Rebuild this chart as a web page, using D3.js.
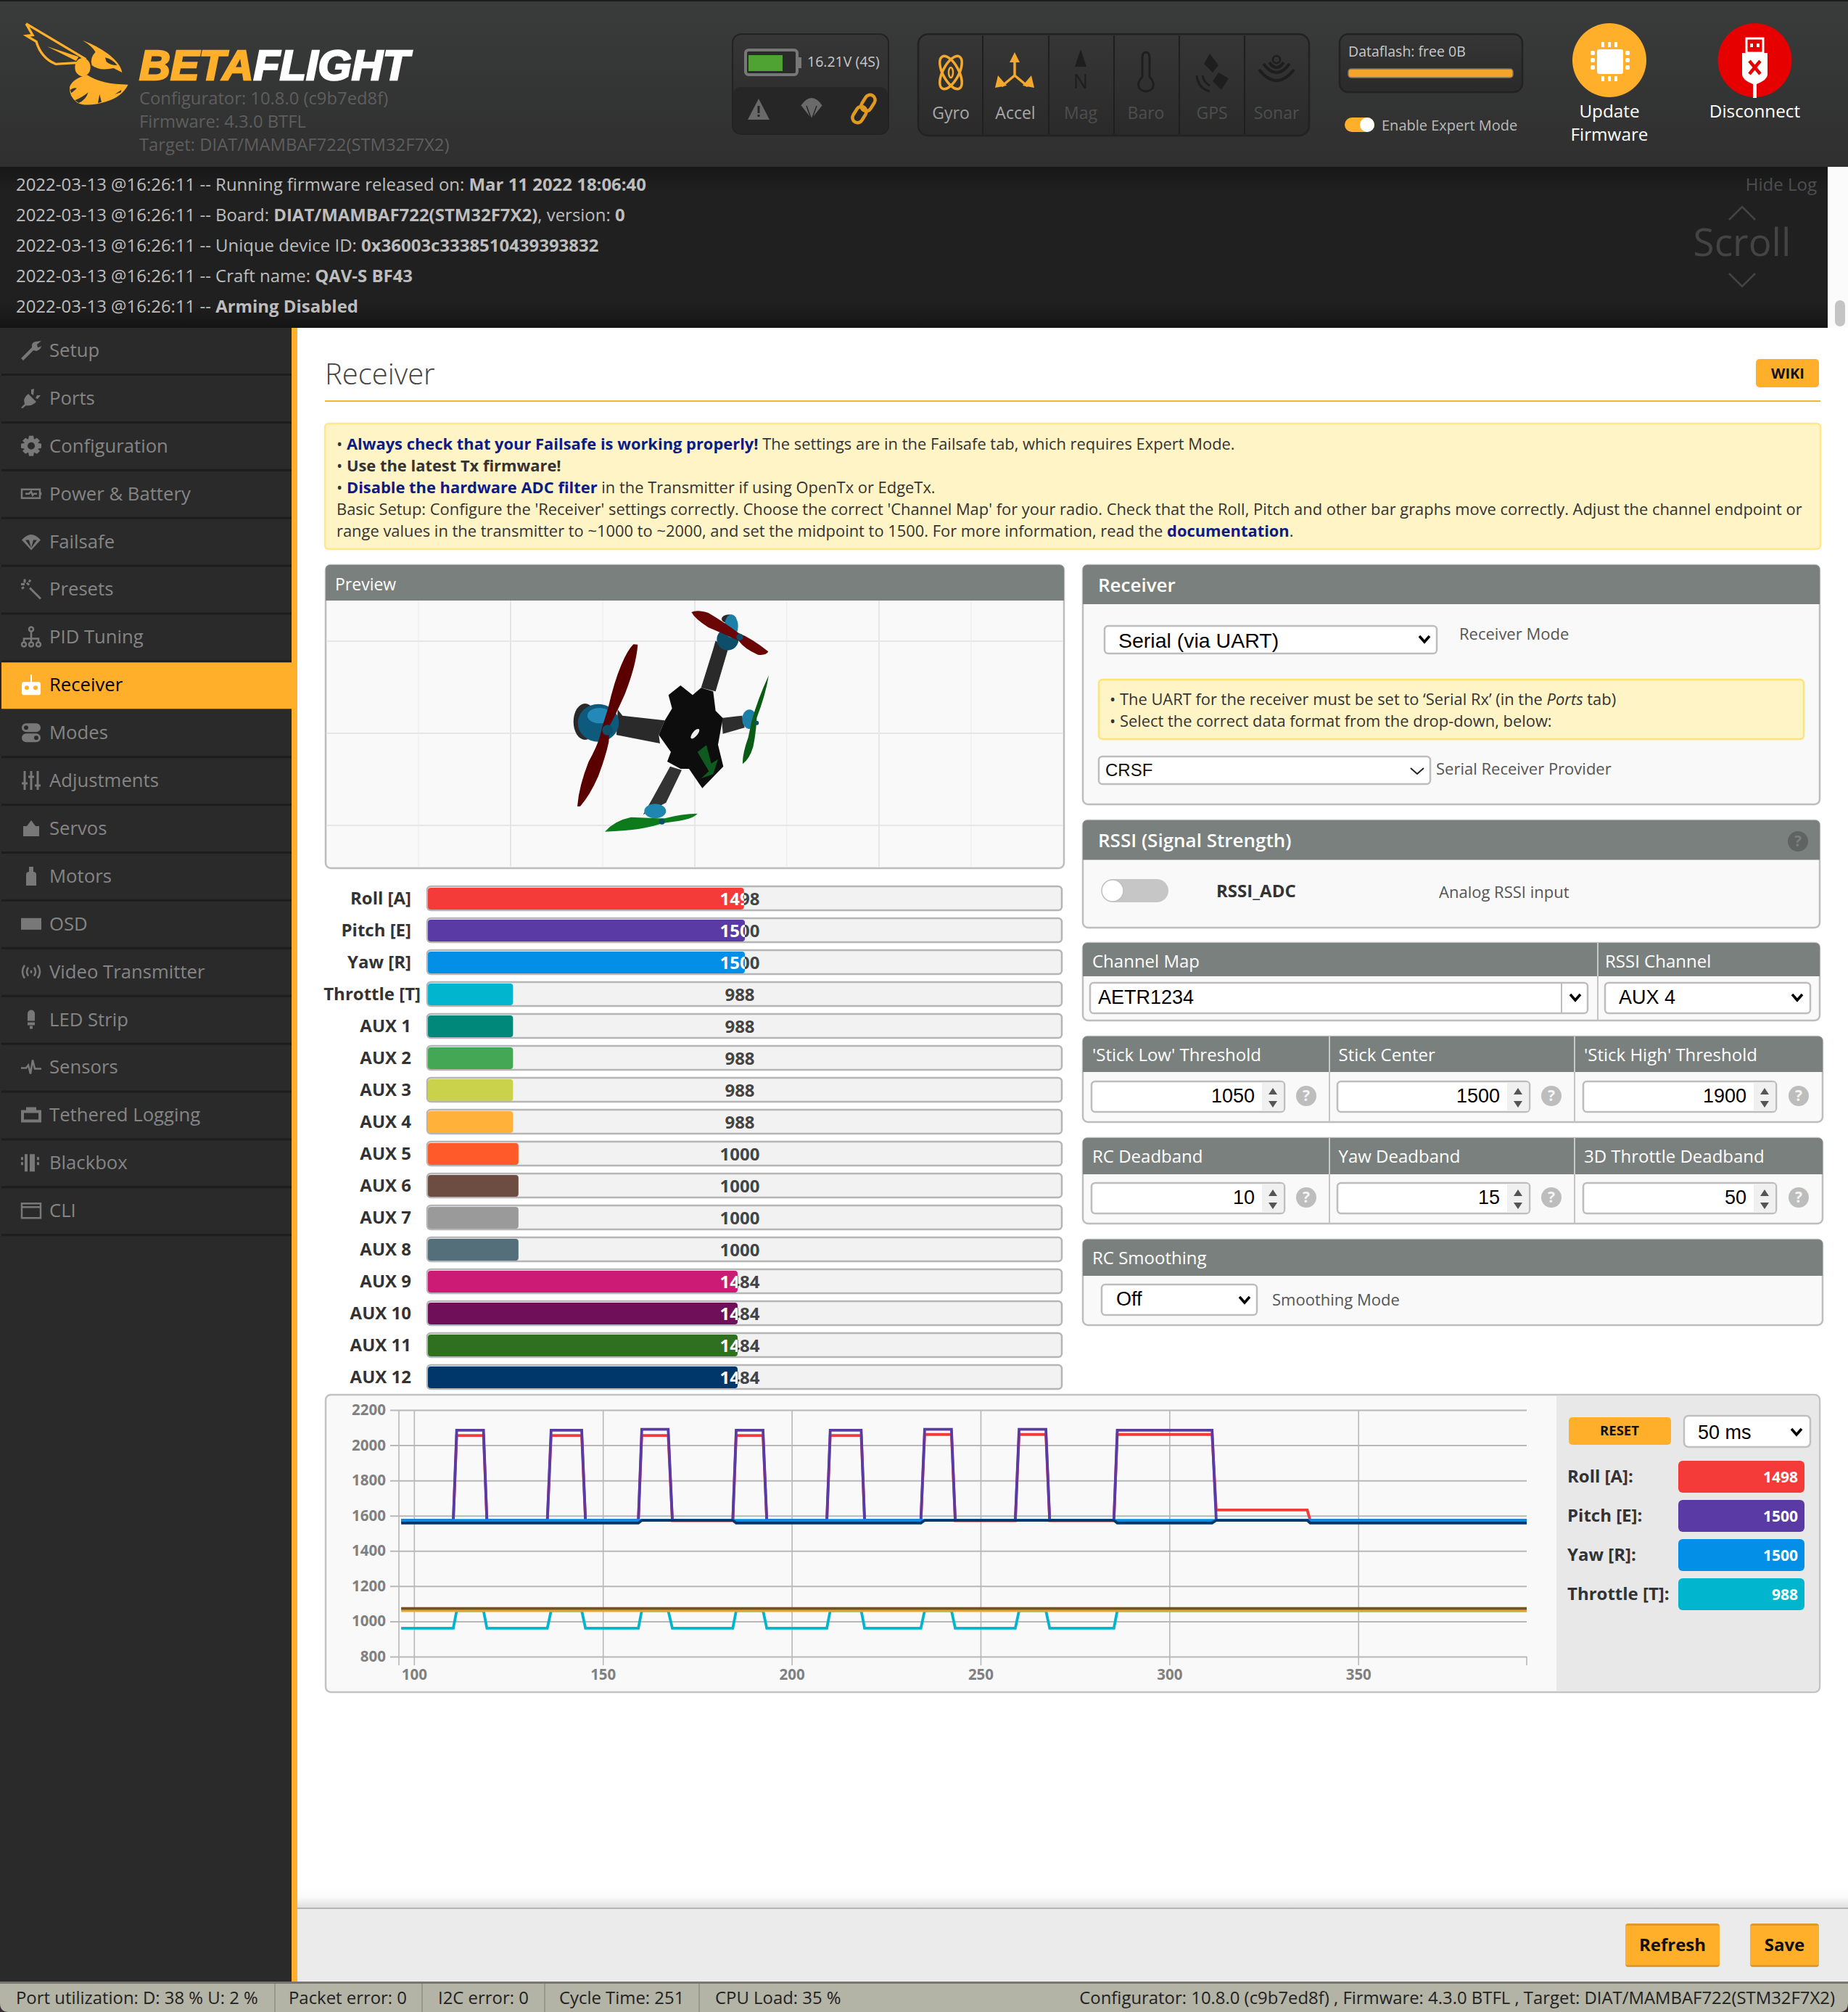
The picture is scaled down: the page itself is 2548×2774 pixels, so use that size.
<!DOCTYPE html>
<html>
<head>
<meta charset="utf-8">
<script src="https://cdn.jsdelivr.net/npm/d3@7"></script>
<style>
  html, body { margin: 0; padding: 0; background: #fff; }
  svg { display: block; }
  text { font-family: "Open Sans", sans-serif; }
</style>
</head>
<body>
<div id="chart"></div>
<script>
// ---- datos ----
const channelNames = ["Roll [A]", "Pitch [E]", "Yaw [R]", "Throttle [T]", "AUX 1", "AUX 2", "AUX 3", "AUX 4",
  "AUX 5", "AUX 6", "AUX 7", "AUX 8", "AUX 9", "AUX 10", "AUX 11", "AUX 12"]
const channelValues = [1498, 1500, 1500, 988, 988, 988, 988, 988, 1000, 1000, 1000, 1000, 1484, 1484, 1484, 1484]
const channelColors = ["#f53a3a", "#5a3aa5", "#038fe8", "#00b5cd", "#00897b", "#43a755", "#c9d24a", "#ffb13a",
  "#ff5a2a", "#6d4c41", "#9a9a9a", "#546e7a", "#cb1b74", "#6f0f5a", "#2f7020", "#00376b"]

const yTicks = [800, 1000, 1200, 1400, 1600, 1800, 2000, 2200]
const xTicks = [100, 150, 200, 250, 300, 350]

const sampleX = [96.6,
  110.4, 111.3, 118.4, 119.3,
  135.3, 136.3, 144.4, 145.4,
  159.4, 160.3, 167.3, 168.4,
  184.4, 185.3, 192.4, 193.4,
  209.3, 210.2, 218.4, 219.3,
  234.2, 235.2, 242.3, 243.3,
  259.2, 260.2, 267.3, 268.3,
  285.3, 286.2, 311.3, 312.4,
  336.5, 337.3, 394.6]
const flatX = [96.6, 394.6]

const rollTrace = [1572,
  1572, 2055, 2055, 1572,
  1572, 2055, 2055, 1572,
  1572, 2055, 2055, 1572,
  1572, 2055, 2055, 1572,
  1572, 2055, 2055, 1572,
  1572, 2061, 2061, 1572,
  1572, 2061, 2061, 1572,
  1572, 2061, 2061, 1632,
  1632, 1572, 1572]
const pitchTrace = [1574,
  1574, 2085, 2085, 1574,
  1574, 2085, 2085, 1574,
  1574, 2090, 2090, 1574,
  1574, 2085, 2085, 1574,
  1574, 2085, 2085, 1574,
  1574, 2090, 2090, 1574,
  1574, 2090, 2090, 1574,
  1574, 2085, 2085, 1574,
  1574, 1574, 1574]
const throttleTrace = [961,
  961, 1061, 1061, 961,
  961, 1061, 1061, 961,
  961, 1061, 1061, 961,
  961, 1061, 1061, 961,
  961, 1061, 1061, 961,
  961, 1061, 1061, 961,
  961, 1061, 1061, 961,
  961, 1061, 1061, 1061,
  1061, 1061, 1061]
const aux12Trace = [1558,
  1558, 1558, 1558, 1558,
  1558, 1558, 1558, 1558,
  1558, 1574, 1574, 1574,
  1574, 1558, 1558, 1558,
  1558, 1558, 1558, 1558,
  1558, 1574, 1574, 1574,
  1574, 1574, 1574, 1574,
  1574, 1558, 1558, 1574,
  1574, 1558, 1558]
const yawTrace = [1574, 1574]
const aux4Trace = [1061, 1061]
const aux6Trace = [1073, 1073]

const legendNames = ["Roll [A]:", "Pitch [E]:", "Yaw [R]:", "Throttle [T]:"]

const tabNames = ["Setup", "Ports", "Configuration", "Power & Battery", "Failsafe", "Presets", "PID Tuning", "Receiver",
  "Modes", "Adjustments", "Servos", "Motors", "OSD", "Video Transmitter", "LED Strip", "Sensors", "Tethered Logging", "Blackbox", "CLI"]

const ORANGE = "#ffaf2a"
const HEADER = "#7a807d"
const SYS = '"Liberation Sans", Arial, sans-serif'

const svg = d3.select("#chart").append("svg").attr("width", 2548).attr("height", 2774)
const defs = svg.append("defs")

function gradient(id, stops) {
  const g = defs.append("linearGradient").attr("id", id).attr("x1", 0).attr("x2", 0).attr("y1", 0).attr("y2", 1)
  stops.forEach(s => g.append("stop").attr("offset", s[0]).attr("stop-color", s[1]))
}
gradient("headGrad", [[0, "#3a3b3b"], [1, "#2f2f2f"]])
gradient("logGrad", [[0, "#171717"], [0.15, "#202020"], [0.85, "#202020"], [1, "#141414"]])
gradient("panelGrad", [[0, "#363636"], [1, "#2a2a2a"]])
gradient("footGrad", [[0, "#ffffff"], [0.5, "#fafafa"], [1, "#dedede"]])

// ---- ayudas ----
function box(g, x0, y0, x1, y1, fill, stroke, sw, rx) {
  return g.append("rect").attr("x", x0).attr("y", y0).attr("width", x1 - x0).attr("height", y1 - y0)
    .attr("fill", fill).attr("stroke", stroke || "none").attr("stroke-width", sw || 0).attr("rx", rx || 0)
}
function label(g, str, x, y, size, color, opts) {
  opts = opts || {}
  return g.append("text").attr("x", x).attr("y", y).attr("dy", "0.35em").text(str)
    .attr("font-size", size).attr("fill", color)
    .attr("font-weight", opts.bold ? 700 : (opts.weight || 400))
    .attr("text-anchor", opts.anchor || "start")
    .style("font-family", opts.font || null)
}
function rich(g, parts, x, y, size, color) {
  const t = g.append("text").attr("x", x).attr("y", y).attr("dy", "0.35em").attr("font-size", size).attr("fill", color)
  parts.forEach(p => {
    const s = t.append("tspan").text(p.t)
    if (p.b) s.attr("font-weight", 700)
    if (p.c) s.attr("fill", p.c)
    if (p.i) s.attr("font-style", "italic")
  })
  return t
}
function line(g, d, color, sw, fill) {
  return g.append("path").attr("d", d).attr("fill", fill || "none").attr("stroke", color).attr("stroke-width", sw)
}
function chevron(g, x, y, color, sw, w) {
  w = w || 7
  line(g, `M${x - w} ${y - 4} L${x} ${y + 4} L${x + w} ${y - 4}`, color, sw || 3.5)
}
function panel(g, x0, y0, x1, y1, headBottom, dividers) {
  box(g, x0, y0, x1, y1, "#f9f9f9", "#bdbdbd", 2.5, 7)
  g.append("path").attr("fill", HEADER)
    .attr("d", `M${x0} ${headBottom} V${y0 + 6} Q${x0} ${y0} ${x0 + 6} ${y0} H${x1 - 6} Q${x1} ${y0} ${x1} ${y0 + 6} V${headBottom}Z`)
  ;(dividers || []).forEach(dx => {
    g.append("line").attr("x1", dx).attr("x2", dx).attr("y1", y0).attr("y2", headBottom).attr("stroke", "#c8c8c8").attr("stroke-width", 2)
    g.append("line").attr("x1", dx).attr("x2", dx).attr("y1", headBottom).attr("y2", y1).attr("stroke", "#c4c4c4").attr("stroke-width", 2)
  })
}
function help(g, x, y, fill, color) {
  g.append("circle").attr("cx", x).attr("cy", y).attr("r", 14).attr("fill", fill)
  label(g, "?", x, y, 21, color, { anchor: "middle", bold: true })
}

// ---- cabecera ----
const head = svg.append("g").attr("id", "cabecera")
box(head, 0, 0, 2548, 230, "url(#headGrad)")
box(head, 0, 0, 2548, 2, "#1c1c1c")

const logo = head.append("g").attr("id", "logo").attr("transform", "translate(20, 20) scale(0.3333)")
line(logo, "M48 38 L295 185 M48 38 L75 85 L50 88 L90 112 Q110 180 170 205 L255 200", ORANGE, 10)
logo.append("path").attr("fill", ORANGE).attr("d", "M135 132 L265 175 L255 192Z")
logo.append("ellipse").attr("cx", 282).attr("cy", 218).attr("rx", 32).attr("ry", 38).attr("fill", ORANGE)
logo.append("path").attr("fill", ORANGE).attr("d", "M282 107 Q345 130 390 165 Q440 205 445 240 L410 222 Q350 235 320 210 Q310 180 335 155 Q320 130 282 107Z")
logo.append("path").attr("fill", "#333").attr("d", "M375 178 Q405 185 425 210 Q395 210 380 195Z")
logo.append("path").attr("fill", ORANGE).attr("d", "M300 250 Q360 290 470 290 Q445 340 380 360 Q300 385 260 365 Q225 340 228 300 Q240 265 300 250Z")
logo.append("path").attr("fill", "#333").attr("d", "M230 312 Q245 300 258 305 L235 325Z M250 355 Q285 340 305 322 Q295 355 265 366Z M345 366 L352 330 L360 362Z M415 330 L442 312 L440 322Z")

const word = head.append("text").attr("x", 192).attr("y", 110).attr("font-size", 57)
  .attr("font-weight", 700).attr("font-style", "italic").style("font-family", SYS)
  .attr("textLength", 372).attr("lengthAdjust", "spacingAndGlyphs")
word.append("tspan").text("BETA").attr("fill", ORANGE).attr("stroke", ORANGE).attr("stroke-width", 2.5)
word.append("tspan").text("FLIGHT").attr("fill", "#fff").attr("stroke", "#fff").attr("stroke-width", 2.5)

label(head, "Configurator: 10.8.0 (c9b7ed8f)", 192, 136, 23.8, "#5e5e5e")
label(head, "Firmware: 4.3.0 BTFL", 192, 168, 23.8, "#5e5e5e")
label(head, "Target: DIAT/MAMBAF722(STM32F7X2)", 192, 200, 23.8, "#5e5e5e")

// bateria
box(head, 1010, 47, 1225, 185, "url(#panelGrad)", "#222", 2, 12)
box(head, 1011, 120, 1224, 184, "#262626", null, 0, 10)
box(head, 1028, 69, 1099, 103, "#2a2a2a", "#777", 4, 4)
box(head, 1100, 79, 1105, 94, "#777")
box(head, 1032, 76, 1079, 98, "#4fa333")
label(head, "16.21V (4S)", 1113, 85, 19.5, "#c8c8c8")
head.append("path").attr("fill", "#6a6a6a").attr("d", "M1046 136 L1061 165 H1031Z")
box(head, 1044.5, 146, 1047.5, 156, "#262626")
box(head, 1044.5, 158, 1047.5, 161, "#262626")
head.append("path").attr("fill", "#6a6a6a").attr("d", "M1104 146 Q1119 124 1134 146 L1119 165Z")
line(head, "M1104 146 L1119 165 L1134 146 M1112 146 L1119 165 L1126 146", "#262626", 1.5)
;[[1197, 142], [1185, 158]].forEach(c => {
  box(head, c[0] - 7, c[1] - 12, c[0] + 7, c[1] + 12, "none", "#e09a20", 4.5, 7)
    .attr("transform", `rotate(32 ${c[0]} ${c[1]})`)
})

// sensores
box(head, 1266, 47, 1805, 187, "url(#panelGrad)", "#222", 2.5, 14)
const sensorNames = ["Gyro", "Accel", "Mag", "Baro", "GPS", "Sonar"]
const sensorOn = [true, true, false, false, false, false]
const sensorX = [1311, 1400, 1490, 1580, 1671, 1760]
;[1355, 1446, 1536, 1626, 1716].forEach(dx => head.append("line").attr("x1", dx).attr("x2", dx).attr("y1", 49).attr("y2", 185).attr("stroke", "#1f1f1f").attr("stroke-width", 2))
sensorNames.forEach((n, i) => label(head, n, sensorX[i], 156, 23, sensorOn[i] ? "#a8a8a8" : "#4e4e4e", { anchor: "middle" }))
;[-28, 28].forEach(a => head.append("ellipse").attr("cx", 1311).attr("cy", 100).attr("rx", 11).attr("ry", 25)
  .attr("fill", "none").attr("stroke", "#f4a82c").attr("stroke-width", 3.5).attr("transform", `rotate(${a} 1311 100)`))
head.append("ellipse").attr("cx", 1311).attr("cy", 100).attr("rx", 3).attr("ry", 7).attr("fill", "none").attr("stroke", "#f4a82c").attr("stroke-width", 2.5)
line(head, "M1399 82 V104 L1381 119 M1399 104 L1417 119", "#f4a82c", 3.5)
head.append("path").attr("fill", "#f4a82c").attr("d", "M1399 72 L1406 86 H1392Z M1372 121 L1376 104 L1388 118Z M1426 121 L1422 104 L1410 118Z")
const off = "#1e1e1e"
head.append("path").attr("fill", off).attr("d", "M1490 68 L1498 92 H1482Z")
label(head, "N", 1490, 113, 27, off, { anchor: "middle" })
line(head, "M1575 80 Q1575 72 1580 72 Q1585 72 1585 80 V106 Q1593 114 1589 122 Q1580 130 1571 122 Q1567 114 1575 106Z", "#1e1e1e", 3)
head.append("path").attr("fill", off).attr("d", "M1660 88 L1668 74 L1680 90 L1672 100Z M1680 100 L1694 108 L1684 124 L1672 112Z")
line(head, "M1650 104 Q1652 122 1668 126 M1658 104 Q1660 114 1668 118", off, 3)
line(head, "M1736 96 Q1760 126 1784 96 M1742 88 Q1760 112 1778 88 M1750 86 Q1760 100 1770 86", off, 4)
head.append("circle").attr("cx", 1760).attr("cy", 82).attr("r", 5).attr("fill", "none").attr("stroke", off).attr("stroke-width", 2.5)

// dataflash
box(head, 1847, 47, 2099, 127, "url(#panelGrad)", "#222", 2.5, 12)
label(head, "Dataflash: free 0B", 1859, 71, 19.5, "#c8c8c8")
box(head, 1859, 95, 2086, 107, "#f2a52a", "#777", 1.5, 4)

box(head, 1854, 162, 1895, 182, ORANGE, null, 0, 10)
head.append("circle").attr("cx", 1885).attr("cy", 172).attr("r", 10).attr("fill", "#fff")
label(head, "Enable Expert Mode", 1905, 173, 20, "#bbbbbb")

// botones
head.append("circle").attr("cx", 2219).attr("cy", 83).attr("r", 51).attr("fill", ORANGE)
box(head, 2202, 68, 2238, 102, "#fff", null, 0, 3)
;[2210, 2219, 2228].forEach(px => {
  box(head, px - 2, 58, px + 2, 65, "#fff")
  box(head, px - 2, 105, px + 2, 112, "#fff")
})
;[73, 83, 93].forEach(py => {
  box(head, 2193, py - 3, 2199, py + 3, "#fff", null, 0, 2)
  box(head, 2241, py - 3, 2247, py + 3, "#fff", null, 0, 2)
})
label(head, "Update", 2219, 153, 24.3, "#fff", { anchor: "middle" })
label(head, "Firmware", 2219, 185, 24.3, "#fff", { anchor: "middle" })

head.append("circle").attr("cx", 2419.5).attr("cy", 83).attr("r", 51).attr("fill", "#e60000")
box(head, 2408, 53, 2431, 73, "none", "#fff", 3)
box(head, 2413, 60, 2417, 65, "#fff")
box(head, 2422, 60, 2426, 65, "#fff")
head.append("path").attr("fill", "#fff").attr("d", "M2402 73 H2437 V103 Q2437 110 2422 116 V135 H2417 V116 Q2402 110 2402 103Z")
line(head, "M2412 84 L2427 102 M2427 84 L2412 102", "#e60000", 4.5)
label(head, "Disconnect", 2419.5, 153, 24.3, "#fff", { anchor: "middle" })

// ---- log ----
const logG = svg.append("g").attr("id", "log")
box(logG, 0, 230, 2520, 452, "url(#logGrad)")
box(logG, 2520, 230, 2548, 452, "#fbfbfb")
box(logG, 2530, 414, 2544, 450, "#c4c4c4", null, 0, 7)
const stamp = "2022-03-13 @16:26:11 -- "
rich(logG, [{ t: stamp + "Running firmware released on: " }, { t: "Mar 11 2022 18:06:40", b: true }], 22, 255, 23.95, "#bdbdbd")
rich(logG, [{ t: stamp + "Board: " }, { t: "DIAT/MAMBAF722(STM32F7X2)", b: true }, { t: ", version: " }, { t: "0", b: true }], 22, 297, 23.95, "#bdbdbd")
rich(logG, [{ t: stamp + "Unique device ID: " }, { t: "0x36003c3338510439393832", b: true }], 22, 339, 23.95, "#bdbdbd")
rich(logG, [{ t: stamp + "Craft name: " }, { t: "QAV-S BF43", b: true }], 22, 381, 23.95, "#bdbdbd")
rich(logG, [{ t: stamp }, { t: "Arming Disabled", b: true }], 22, 423, 23.95, "#bdbdbd")
label(logG, "Hide Log", 2505, 255, 24, "#4e4e4e", { anchor: "end" })
label(logG, "Scroll", 2402, 334, 53, "#444444", { anchor: "middle" })
line(logG, "M2384 303 L2402 285 L2420 303", "#444", 2.5)
line(logG, "M2384 377 L2402 395 L2420 377", "#444", 2.5)

// ---- menu lateral ----
const side = svg.append("g").attr("id", "menu")
box(side, 0, 452, 402, 2732, "#2a2a2a")
box(side, 402, 452, 410, 2732, ORANGE)

const tabIcons = [
  { d: "M-14 11 L1 -4 Q0 -11 6 -12 L14 -13 L8 -8 L9 -4 L13 -5 L14 -7 Q14 -1 7 1 L3 0 L-11 14Z" },
  { d: "M-14 13 L-9 8 Q-12 0 -4 -6 L7 5 Q0 12 -7 10 L-12 14Z M0 -12 L4 -13 L3 -4 L0 -6Z M8 -4 L13 -4 L9 1 L6 0Z" },
  { d: "M-3 -14 H3 L4 -9 L8 -11 L12 -7 L9 -4 L14 -3 V3 L9 4 L12 7 L8 11 L4 9 L3 14 H-3 L-4 9 L-8 11 L-12 7 L-9 4 L-14 3 V-3 L-9 -4 L-12 -7 L-8 -11 L-4 -9Z M0 -5 A5 5 0 1 0 0.1 5 A5 5 0 1 0 0 -5Z" },
  { d: "M-13 -6 H12 V6 H-13Z M-8 0 H-3 L0 -3 L2 2 L4 0 H8 M13 -2 V2", s: 2.5 },
  { d: "M-13 -2 Q0 -17 13 -2 L0 12Z M-8 -2 L0 9 L-3 -2Z M8 -2 L0 9 L3 -2Z" },
  { d: "M-2 -2 L13 13 M-9 -14 V-9 M-14 -7 H-9 M-1 -13 L-3 -10 M-13 -1 L-10 -3 M-3 -6 L-6 -9", s: 3 },
  { d: "M0 -8 V2 M-10 6 V2 H10 V6 M0 2 V6 M3 -11 A3 3 0 1 1 -3 -11 A3 3 0 1 1 3 -11 M-7 10 A3 3 0 1 1 -13 10 A3 3 0 1 1 -7 10 M3 10 A3 3 0 1 1 -3 10 A3 3 0 1 1 3 10 M13 10 A3 3 0 1 1 7 10 A3 3 0 1 1 13 10", s: 2.5 },
  { d: "M-1 -14 H1 V-4 H10 Q13 -4 13 -1 V11 Q13 14 10 14 H-10 Q-13 14 -13 11 V-1 Q-13 -4 -10 -4 H-1Z M-3 4 A3 3 0 1 0 -9 4 A3 3 0 1 0 -3 4Z M9 4 A3 3 0 1 0 3 4 A3 3 0 1 0 9 4Z" },
  { d: "M-7 -13 H7 A6 6 0 0 1 7 -1 H-7 A6 6 0 0 1 -7 -13Z M-7 -10 A3 3 0 1 0 -7 -4 A3 3 0 1 0 -7 -10Z M-7 1 H7 A6 6 0 0 1 7 13 H-7 A6 6 0 0 1 -7 1Z M7 4 A3 3 0 1 0 7 10 A3 3 0 1 0 7 4Z" },
  { d: "M-9 -13 V13 M0 -13 V13 M9 -13 V13 M-13 4 H-5 M-4 -5 H4 M5 7 H13", s: 3 },
  { d: "M-11 -3 H11 V11 H-11Z M-6 -3 L0 -11 L6 -3Z" },
  { d: "M-7 -2 Q-7 -6 -3 -6 V-13 H3 V-6 Q7 -6 7 -2 V13 H-7Z" },
  { d: "M-14 -8 H14 V8 H-14Z" },
  { d: "M-4 -6 Q-8 0 -4 6 M4 -6 Q8 0 4 6 M-9 -9 Q-15 0 -9 9 M9 -9 Q15 0 9 9 M0 -2 V2", s: 2.5 },
  { d: "M-5 -8 A5 5 0 1 1 5 -8 V2 H-5Z M-5 4 H5 V8 H-5Z M-2 9 H2 V13 H-2Z" },
  { d: "M-14 1 H-7 L-4 -3 L-1 9 L2 -10 L5 2 H14", s: 2.5 },
  { d: "M-14 -7 H14 V10 H-14Z M-10 -3 V6 H10 V-3Z M-7 -11 H7 V-7 H-7Z" },
  { d: "M-9 -12 H-5 V12 H-9Z M-2 -12 H5 V12 H-2Z M8 -8 H11 V-4 H8Z M8 -1 H11 V3 H8Z M-14 -8 H-11 V-4 H-14Z M-14 -1 H-11 V3 H-14Z" },
  { d: "M-13 -10 H13 V10 H-13Z M-13 -5 H13", s: 2.5 }
]
const rows = side.selectAll(".tab").data(tabNames).enter().append("g").attr("class", "tab")
  .attr("transform", (d, i) => `translate(0, ${451 + 65.9 * i})`)
rows.filter(d => d !== "Receiver").append("rect").attr("x", 2).attr("y", 64).attr("width", 400).attr("height", 3).attr("fill", "#1d1d1d")
rows.filter(d => d === "Receiver").append("rect").attr("x", 2).attr("y", 1).attr("width", 408).attr("height", 64).attr("fill", ORANGE)
rows.append("path").attr("transform", "translate(43, 32)")
  .attr("d", (d, i) => tabIcons[i].d)
  .attr("fill-rule", "evenodd")
  .attr("fill", (d, i) => tabIcons[i].s ? "none" : (d === "Receiver" ? "#fff" : "#787878"))
  .attr("stroke", (d, i) => tabIcons[i].s ? "#787878" : "none")
  .attr("stroke-width", (d, i) => tabIcons[i].s || 0)
rows.append("text").attr("x", 68).attr("y", 32).attr("dy", "0.35em").text(d => d)
  .attr("font-size", 25.7).attr("fill", d => d === "Receiver" ? "#000" : "#858585")

// ---- contenido ----
const main = svg.append("g").attr("id", "contenido")
label(main, "Receiver", 448, 516, 40, "#444", { weight: 300 })
box(main, 448, 552, 2510, 554, "#f5b335")
box(main, 2421, 495, 2508, 534, ORANGE, null, 0, 5)
label(main, "WIKI", 2465, 515, 20, "#111", { anchor: "middle", bold: true })

box(main, 448, 584, 2510, 757, "#fff4c6", "#ffe78a", 2.5, 5)
const BLUE = "#0d1b87"
rich(main, [{ t: "• " }, { t: "Always check that your Failsafe is working properly!", b: true, c: BLUE }, { t: " The settings are in the Failsafe tab, which requires Expert Mode." }], 464, 612, 21.9, "#333")
rich(main, [{ t: "• " }, { t: "Use the latest Tx firmware!", b: true }], 464, 642, 21.9, "#333")
rich(main, [{ t: "• " }, { t: "Disable the hardware ADC filter", b: true, c: BLUE }, { t: " in the Transmitter if using OpenTx or EdgeTx." }], 464, 672, 21.9, "#333")
rich(main, [{ t: "Basic Setup: Configure the 'Receiver' settings correctly. Choose the correct 'Channel Map' for your radio. Check that the Roll, Pitch and other bar graphs move correctly. Adjust the channel endpoint or" }], 464, 702, 21.9, "#333")
rich(main, [{ t: "range values in the transmitter to ~1000 to ~2000, and set the midpoint to 1500. For more information, read the " }, { t: "documentation", b: true, c: BLUE }, { t: "." }], 464, 732, 21.9, "#333")

// vista previa
panel(main, 449, 779, 1467, 1197, 828)
label(main, "Preview", 462, 806, 23, "#fff")
;[577, 831, 1084.5, 1339].forEach(px => main.append("line").attr("x1", px).attr("x2", px).attr("y1", 828).attr("y2", 1195).attr("stroke", "#efefef").attr("stroke-width", 1.5))
;[704, 958, 1212].forEach(px => main.append("line").attr("x1", px).attr("x2", px).attr("y1", 828).attr("y2", 1195).attr("stroke", "#e6e6e6").attr("stroke-width", 2))
;[884, 1011, 1138].forEach(py => main.append("line").attr("x1", 451).attr("x2", 1465).attr("y1", py).attr("y2", py).attr("stroke", "#e6e6e6").attr("stroke-width", 2))

const quad = main.append("g").attr("id", "quad").attr("transform", "translate(770, 830) scale(0.3333)")
const quadPart = (d, fill) => quad.append("path").attr("d", d).attr("fill", fill)
const motor = (cx, cy, rx, ry, fill) => quad.append("ellipse").attr("cx", cx).attr("cy", cy).attr("rx", rx).attr("ry", ry).attr("fill", fill)
quadPart("M590 355 L640 195 L650 160 L700 200 L650 370Z", "#2a2a2a")
quadPart("M245 445 L265 470 L440 490 L415 550 L420 585 L240 550Z", "#2a2a2a")
quadPart("M675 480 L760 470 L770 520 L680 545Z", "#2e2e2e")
quadPart("M462 680 L510 695 L445 830 L350 880 L385 820Z", "#333333")
motor(110, 495, 48, 75, "#2a2a2a")
motor(165, 500, 85, 78, "#0e5a7c")
motor(170, 470, 50, 32, "#2489b8")
motor(705, 70, 30, 18, "#2a2a2a")
motor(700, 155, 45, 45, "#0d4f6a")
motor(715, 100, 28, 48, "#1b7fa8")
motor(790, 485, 30, 40, "#1b7fa8")
motor(400, 865, 45, 30, "#1f86b0")
quadPart("M455 385 L505 345 L555 385 L590 355 L640 370 L650 450 L680 480 L660 590 L682 680 L595 770 L540 690 L505 690 L450 660 L465 620 L415 550 L440 490 L470 440Z", "#0d0d0d")
quad.append("ellipse").attr("cx", 565).attr("cy", 545).attr("rx", 25).attr("ry", 10).attr("fill", "#eeeeee").attr("transform", "rotate(-50 565 545)")
quadPart("M575 620 L612 592 L632 668 L660 650 L640 712 L590 730 L622 700Z", "#0e5a20")
quadPart("M310 175 L328 176 Q322 260 275 380 Q235 470 212 510 L208 580 Q195 640 165 720 Q130 800 90 845 L78 845 Q85 760 125 660 Q170 580 180 520 L205 440 Q230 330 260 260 Q285 200 310 175Z", "#5a0000")
quadPart("M550 42 Q575 30 620 45 Q680 80 745 128 Q800 150 868 205 Q860 222 825 218 Q770 195 745 160 Q680 130 620 105 Q565 70 550 42Z", "#6b0606")
quadPart("M870 303 Q858 380 820 480 Q818 540 805 600 Q790 650 762 670 Q760 630 785 560 L800 490 Q825 400 870 303Z", "#0a5c14")
quadPart("M192 950 Q230 905 300 890 L410 895 L440 895 Q510 875 575 875 Q560 895 500 905 L430 915 Q350 945 192 950Z", "#0d7a1c")
motor(203, 530, 22, 22, "#0d4f6a")
motor(750, 145, 14, 14, "#0d4f6a")
motor(820, 500, 9, 9, "#0d4f6a")
motor(428, 908, 12, 12, "#0d4f6a")

// barras de canales
const barX = d3.scaleLinear().domain([800, 2200]).range([590, 1464])
const rowY = d3.scaleBand().domain(channelNames).range([1222, 1222 + 44 * 16])
const bars = main.selectAll(".canal").data(channelNames).enter().append("g").attr("class", "canal")
  .attr("transform", d => `translate(0, ${rowY(d)})`)
bars.append("text").attr("x", (d, i) => i === 3 ? 580 : 567).attr("y", 16.5).attr("dy", "0.35em").attr("text-anchor", "end")
  .attr("font-size", 24).attr("font-weight", 700).attr("fill", "#333").text(d => d)
bars.append("rect").attr("x", 589).attr("y", 0).attr("width", 875).attr("height", 33).attr("rx", 5)
  .attr("fill", "#f2f2f2").attr("stroke", "#b5b5b5").attr("stroke-width", 2.5)
bars.append("rect").attr("x", barX(800)).attr("y", 2).attr("height", 30).attr("rx", 4)
  .attr("width", (d, i) => barX(channelValues[i]) - barX(800))
  .attr("fill", (d, i) => channelColors[i])
bars.append("clipPath").attr("id", (d, i) => "fillClip" + i).append("rect")
  .attr("x", barX(800)).attr("y", 0).attr("height", 33).attr("width", (d, i) => barX(channelValues[i]) - barX(800))
bars.append("text").attr("x", 1020).attr("y", 18).attr("dy", "0.35em").attr("text-anchor", "middle")
  .attr("font-size", 24).attr("font-weight", 700).attr("fill", "#444").text((d, i) => channelValues[i])
bars.append("text").attr("x", 1020).attr("y", 18).attr("dy", "0.35em").attr("text-anchor", "middle")
  .attr("clip-path", (d, i) => `url(#fillClip${i})`)
  .attr("font-size", 24).attr("font-weight", 700).attr("fill", "#fff").text((d, i) => channelValues[i])

// ---- grafica ----
const graph = main.append("g").attr("id", "grafica")
box(graph, 449, 1923, 2509, 2333, "#f9f9f9", "#c2c2c2", 2.5, 7)
graph.append("path").attr("fill", "#e8e8e8").attr("d", "M2146 1924.5 H2502 Q2507.5 1924.5 2507.5 1930 V2326 Q2507.5 2331.5 2502 2331.5 H2146Z")

const x = d3.scaleLinear().domain([96, 394.6]).range([550, 2105])
const y = d3.scaleLinear().domain([800, 2200]).range([2284, 1944])

const ejeY = d3.axisLeft(y).tickValues(yTicks).tickFormat(d3.format("d")).tickSize(2105 - 538).tickPadding(6)
const ejeX = d3.axisBottom(x).tickValues(xTicks).tickSize(-(2296 - 1944)).tickPadding(5)
const grupoY = graph.append("g").attr("transform", "translate(2105, 0)").call(ejeY)
const grupoX = graph.append("g").attr("transform", "translate(0, 2296)").call(ejeX)
;[grupoY, grupoX].forEach(g => {
  g.select(".domain").remove()
  g.selectAll("text").attr("font-size", 20.5).attr("font-weight", 700).attr("fill", "#808080")
    .style("font-family", '"Open Sans", sans-serif')
})
grupoY.selectAll("line").attr("stroke", "#b8b8b8").attr("stroke-width", 2)
grupoX.selectAll("line").attr("stroke", "#b8b8b8").attr("stroke-width", 1.6)
graph.append("line").attr("x1", x(96)).attr("x2", x(96)).attr("y1", y(2200)).attr("y2", 2296).attr("stroke", "#b8b8b8").attr("stroke-width", 1.6)
graph.append("line").attr("x1", x(394.6)).attr("x2", x(394.6)).attr("y1", y(800)).attr("y2", 2296).attr("stroke", "#b8b8b8").attr("stroke-width", 1.6)

const traces = [
  { color: channelColors[0], xs: sampleX, vals: rollTrace },
  { color: channelColors[1], xs: sampleX, vals: pitchTrace },
  { color: channelColors[3], xs: sampleX, vals: throttleTrace },
  { color: channelColors[2], xs: flatX, vals: yawTrace },
  { color: "#e9a632", xs: flatX, vals: aux4Trace },
  { color: "#705427", xs: flatX, vals: aux6Trace },
  { color: channelColors[15], xs: sampleX, vals: aux12Trace }
]
const trazo = d3.line().x(d => x(d[0])).y(d => y(d[1]))
graph.selectAll(".traza").data(traces).enter().append("path").attr("class", "traza")
  .attr("d", d => trazo(d.xs.map((v, i) => [v, d.vals[i]])))
  .attr("fill", "none").attr("stroke", d => d.color).attr("stroke-width", 3.8)

// leyenda
box(graph, 2163, 1954, 2304, 1992, ORANGE, null, 0, 5)
label(graph, "RESET", 2233, 1973, 18.5, "#111", { anchor: "middle", bold: true })
box(graph, 2322, 1952, 2496, 1995, "#fff", "#c0c0c0", 2.5, 6)
label(graph, "50 ms", 2341, 1975, 27, "#000", { font: SYS })
chevron(graph, 2477, 1974, "#000", 3.5)
const legRows = graph.selectAll(".leyenda").data(legendNames).enter().append("g").attr("class", "leyenda")
  .attr("transform", (d, i) => `translate(0, ${2014 + 54 * i})`)
legRows.append("text").attr("x", 2161).attr("y", 22).attr("dy", "0.35em").attr("font-size", 24).attr("font-weight", 700).attr("fill", "#333").text(d => d)
legRows.append("rect").attr("x", 2314).attr("y", 0).attr("width", 174).attr("height", 44).attr("rx", 6).attr("fill", (d, i) => channelColors[i])
legRows.append("text").attr("x", 2479).attr("y", 23).attr("dy", "0.35em").attr("text-anchor", "end")
  .attr("font-size", 21).attr("font-weight", 700).attr("fill", "#fff").text((d, i) => channelValues[i])

// ---- paneles derecha ----
const right = main.append("g").attr("id", "derecha")

panel(right, 1493, 779, 2509, 1109, 833)
label(right, "Receiver", 1514, 807, 26, "#fff", { weight: 600 })
box(right, 1523, 863, 1981, 901, "#fff", "#bdbdbd", 2.5, 5)
label(right, "Serial (via UART)", 1542, 883, 28.5, "#000", { font: SYS })
chevron(right, 1964, 881, "#000", 3.5)
label(right, "Receiver Mode", 2012, 874, 22, "#555")
box(right, 1515, 937, 2487, 1019, "#fff4c6", "#ffe27a", 2.5, 5)
rich(right, [{ t: "• The UART for the receiver must be set to ‘Serial Rx’ (in the " }, { t: "Ports", i: true }, { t: " tab)" }], 1530, 964, 21.9, "#333")
rich(right, [{ t: "• Select the correct data format from the drop-down, below:" }], 1530, 994, 21.9, "#333")
box(right, 1515, 1043, 1972, 1081, "#fff", "#bdbdbd", 2.5, 5)
label(right, "CRSF", 1524, 1062, 24, "#111", { font: SYS })
chevron(right, 1954, 1063, "#222", 2, 9)
label(right, "Serial Receiver Provider", 1980, 1060, 22, "#555")

panel(right, 1493, 1131, 2509, 1279, 1185.5)
label(right, "RSSI (Signal Strength)", 1514, 1159, 26, "#fff", { weight: 600 })
help(right, 2479, 1160, "#5f6462", "#7a807d")
box(right, 1519, 1212, 1611, 1244, "#c6c6c6", null, 0, 16)
right.append("circle").attr("cx", 1534).attr("cy", 1228).attr("r", 15).attr("fill", "#fff").attr("stroke", "#c0c0c0").attr("stroke-width", 1.5)
label(right, "RSSI_ADC", 1677, 1229, 24, "#333", { bold: true })
label(right, "Analog RSSI input", 1984, 1230, 22, "#555")

panel(right, 1493, 1300, 2509, 1407, 1346, [2203])
label(right, "Channel Map", 1506, 1326, 24, "#fff")
label(right, "RSSI Channel", 2213, 1326, 24, "#fff")
box(right, 1503, 1355, 2189, 1397, "#fff", "#bdbdbd", 2.5, 5)
right.append("line").attr("x1", 2153).attr("x2", 2153).attr("y1", 1355).attr("y2", 1397).attr("stroke", "#bdbdbd").attr("stroke-width", 2)
label(right, "AETR1234", 1514, 1375, 27, "#000", { font: SYS })
chevron(right, 2172, 1375, "#000", 3.5)
box(right, 2213, 1355, 2496, 1397, "#fff", "#bdbdbd", 2.5, 5)
label(right, "AUX 4", 2232, 1375, 27, "#000", { font: SYS })
chevron(right, 2478, 1375, "#000", 3.5)

function numberPanel(y0, y1, headBottom, inputTop, titles, values) {
  panel(right, 1493, y0, 2513, y1, headBottom, [1833, 2171])
  const cells = [[1505, 1771, 1506, 1730, 1801], [1844, 2109, 1845.5, 2068, 2139], [2183, 2449, 2184, 2408, 2480]]
  cells.forEach((c, i) => {
    label(right, titles[i], c[2], (y0 + headBottom) / 2 + 1, 24, "#fff")
    box(right, c[0], inputTop, c[1], inputTop + 42, "#fff", "#bdbdbd", 2.5, 5)
    box(right, c[1] - 31, inputTop + 1.5, c[1] - 1.5, inputTop + 40.5, "#f0f0f0")
    const ax = c[1] - 16
    right.append("path").attr("fill", "#555").attr("d", `M${ax} ${inputTop + 9} l6 9 h-12Z M${ax} ${inputTop + 36} l6 -9 h-12Z`)
    label(right, values[i], c[3], inputTop + 20, 27, "#000", { font: SYS, anchor: "end" })
    help(right, c[4], inputTop + 20, "#bdbdbd", "#f5f5f5")
  })
}
numberPanel(1429, 1547, 1478, 1491, ["'Stick Low' Threshold", "Stick Center", "'Stick High' Threshold"], [1050, 1500, 1900])
numberPanel(1569, 1687, 1619, 1631, ["RC Deadband", "Yaw Deadband", "3D Throttle Deadband"], [10, 15, 50])

panel(right, 1493, 1709, 2513, 1827, 1759)
label(right, "RC Smoothing", 1506, 1735, 24, "#fff")
box(right, 1519, 1771, 1733, 1813, "#fff", "#bdbdbd", 2.5, 5)
label(right, "Off", 1539, 1791, 27, "#000", { font: SYS })
chevron(right, 1716, 1792, "#000", 3.5)
label(right, "Smoothing Mode", 1754, 1792, 22, "#555")

// ---- pie ----
const foot = svg.append("g").attr("id", "pie")
box(foot, 410, 2600, 2548, 2631, "url(#footGrad)")
box(foot, 410, 2630, 2548, 2632.5, "#b5b5b5")
box(foot, 410, 2632, 2548, 2732, "#ebebeb")
function toolButton(x0, x1, str) {
  box(foot, x0, 2652, x1, 2712, "#dc9a28", null, 0, 4)
  box(foot, x0, 2655, x1, 2709, ORANGE)
  label(foot, str, (x0 + x1) / 2, 2682, 24, "#111", { anchor: "middle", bold: true })
}
toolButton(2241, 2371, "Refresh")
toolButton(2413, 2508, "Save")

box(foot, 0, 2732, 2548, 2774, "#b3b3a6")
box(foot, 0, 2732, 2548, 2735, "#77776f")
;[379, 582, 751, 964].forEach(px => foot.append("line").attr("x1", px).attr("x2", px).attr("y1", 2735).attr("y2", 2774).attr("stroke", "#8f8f85").attr("stroke-width", 1.5))
label(foot, "Port utilization: D: 38 % U: 2 %", 22, 2755, 23.9, "#222")
label(foot, "Packet error: 0", 398, 2755, 23.9, "#222")
label(foot, "I2C error: 0", 604, 2755, 23.9, "#222")
label(foot, "Cycle Time: 251", 771, 2755, 23.9, "#222")
label(foot, "CPU Load: 35 %", 986, 2755, 23.9, "#222")
label(foot, "Configurator: 10.8.0 (c9b7ed8f) , Firmware: 4.3.0 BTFL , Target: DIAT/MAMBAF722(STM32F7X2)", 2530, 2755, 23.9, "#222", { anchor: "end" })
foot.append("path").attr("fill", "#3a2f33").attr("d", "M0 2762 Q0 2774 12 2774 H0Z M2548 2762 Q2548 2774 2536 2774 H2548Z")
</script>
</body>
</html>
